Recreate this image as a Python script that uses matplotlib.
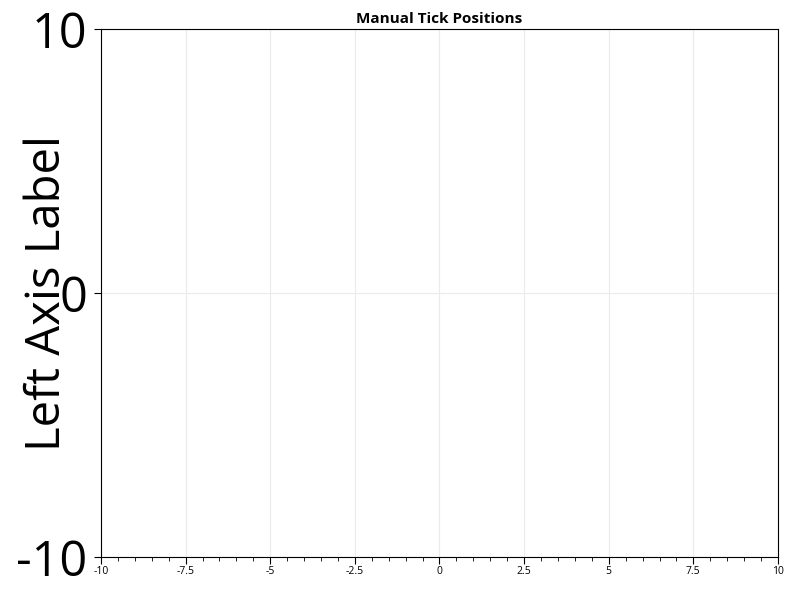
import matplotlib
matplotlib.use("Agg")
import matplotlib.pyplot as plt
from matplotlib.ticker import MultipleLocator

plt.rcParams['font.family'] = ['Open Sans', 'DejaVu Sans']

title = "Manual Tick Positions"
y_label = "Left Axis Label"
x_ticks = [-10, -7.5, -5, -2.5, 0, 2.5, 5, 7.5, 10]
x_tick_labels = ["-10", "-7.5", "-5", "-2.5", "0", "2.5", "5", "7.5", "10"]
y_ticks = [-10, 0, 10]
y_tick_labels = ["-10", "0", "10"]
x_range = [-10, 10]
y_range = [-10, 10]

fig = plt.figure(figsize=(8, 6), dpi=100)
ax = fig.add_axes([0.12625, 0.0717, 0.84625, 0.88])
ax.set_xlim(*x_range)
ax.set_ylim(*y_range)
ax.set_xticks(x_ticks)
ax.set_xticklabels(x_tick_labels, fontsize=7.5)
ax.set_yticks(y_ticks)
ax.set_yticklabels(y_tick_labels, fontsize=35)
ax.xaxis.set_minor_locator(MultipleLocator(0.5))
ax.tick_params(axis='x', which='major', length=5, width=0.8, pad=1.5)
ax.tick_params(axis='x', which='minor', length=3, width=0.6)
ax.tick_params(axis='y', which='major', length=5, width=0.8, pad=5)
ax.grid(True, which='major', color='#ebebeb', linewidth=0.8)
ax.set_axisbelow(True)
ax.set_title(title, fontsize=11, fontweight='bold', pad=4)
ax.set_ylabel(y_label, fontsize=34)
ax.yaxis.set_label_coords(-0.045, 0.5)
for s in ax.spines.values():
    s.set_linewidth(0.8)
fig.savefig("out.png", dpi=100)
